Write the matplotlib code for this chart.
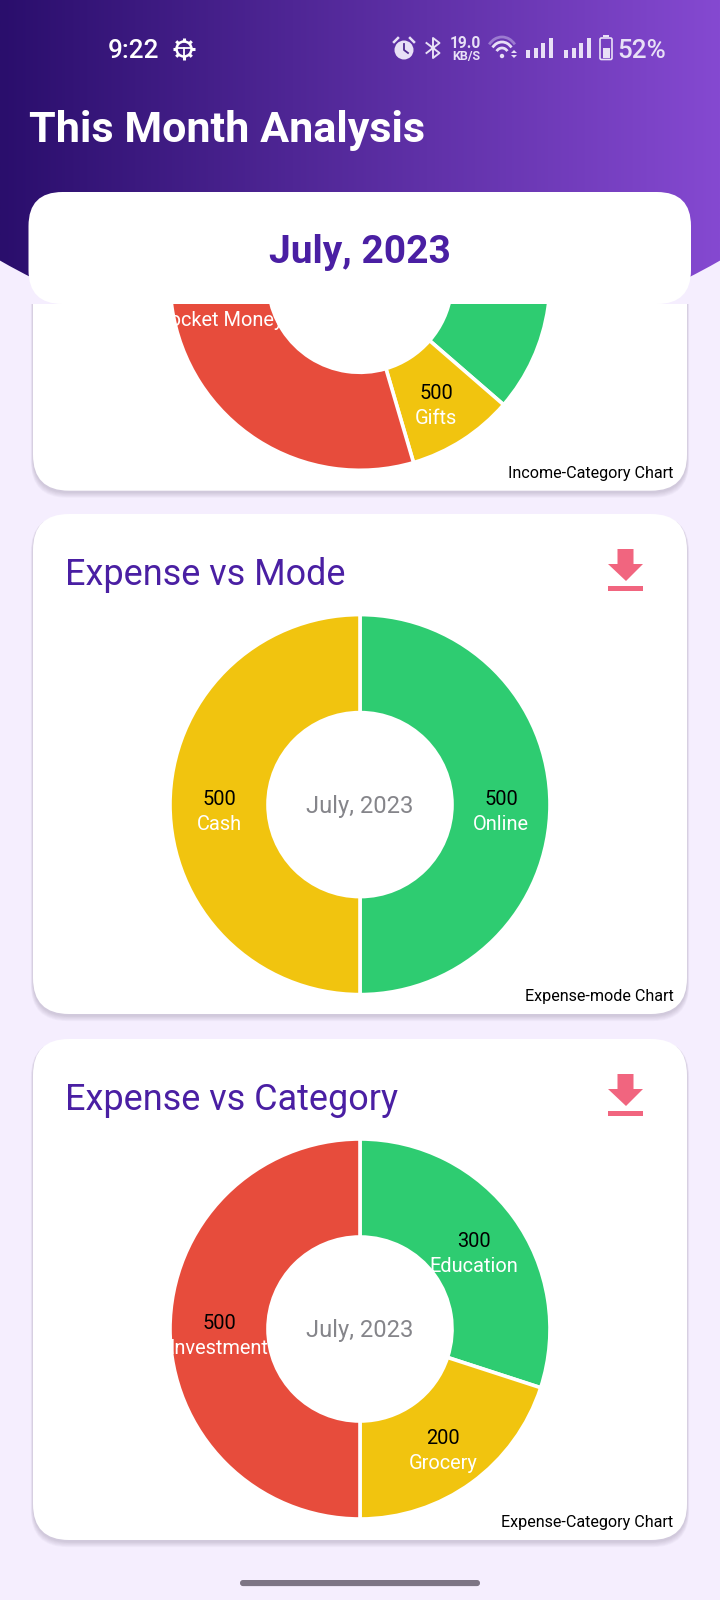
import numpy as np
import matplotlib
matplotlib.use('Agg')
import matplotlib.pyplot as plt
from matplotlib.patches import FancyBboxPatch, Rectangle, Circle, Polygon, Arc

W, H = 720, 1600

GREEN = '#2ECC71'
YELLOW = '#F1C40F'
RED = '#E74C3C'
PURPLE = '#4A1FA3'
PINK = '#F1657F'
BG = '#F5EEFE'
STATUS = '#E8E0F6'

# hidden label of the green income slice cannot be read, so it stays empty
income_values = [2000, 500, 3000]
income_labels = ['', 'Gifts', 'Pocket Money']
income_colors = [GREEN, YELLOW, RED]

mode_values = [500, 500]
mode_labels = ['Online', 'Cash']
mode_colors = [GREEN, YELLOW]

category_values = [300, 200, 500]
category_labels = ['Education', 'Grocery', 'Investment']
category_colors = [GREEN, YELLOW, RED]

plt.rcParams['font.family'] = ['Roboto', 'DejaVu Sans']

fig = plt.figure(figsize=(W / 100, H / 100), dpi=100, facecolor=BG)
# everything except the donuts is drawn in screen pixels
ax = fig.add_axes([0, 0, 1, 1], zorder=0)
ax.set_xlim(0, W)
ax.set_ylim(H, 0)
ax.axis('off')


def px(size):
    # font size from a height in pixels
    return size * 0.72


# header gradient with the round lower edge
grad = np.linspace(0, 1, 256).reshape(1, -1, 1)
left = np.array([0x2A, 0x0E, 0x6C]).reshape(1, 1, 3) / 255
right = np.array([0x85, 0x49, 0xD1]).reshape(1, 1, 3) / 255
img = ax.imshow(left + (right - left) * grad, extent=(0, W, 400, 0), aspect='auto', zorder=1)
img.set_clip_path(Circle((360, -371), 727, transform=ax.transData))
ax.set_xlim(0, W)
ax.set_ylim(H, 0)


def card(x0, y0, x1, y1, r, clip=None, z=2, shade=0.028):
    # soft shadow first, white box on top
    for i in range(7, 0, -1):
        if shade == 0:
            break
        s = FancyBboxPatch((x0 - i * 0.3 + r, y0 + 1.5 + r), x1 - x0 + i * 0.6 - 2 * r, y1 - y0 + i * 0.8 - 2 * r,
                           boxstyle='round,pad=%g' % r, fc='#3C3050', ec='none', alpha=shade, zorder=z)
        ax.add_patch(s)
        if clip:
            s.set_clip_path(clip)
    b = FancyBboxPatch((x0 + r, y0 + r), x1 - x0 - 2 * r, y1 - y0 - 2 * r,
                       boxstyle='round,pad=%g' % r, fc='white', ec='none', zorder=z)
    ax.add_patch(b)
    if clip:
        b.set_clip_path(clip)


def download_icon(dy):
    ax.add_patch(Polygon([(617.5, 549 + dy), (633.5, 549 + dy), (633.5, 564 + dy), (643, 564 + dy),
                          (626, 581 + dy), (608, 564 + dy), (617.5, 564 + dy)],
                         closed=True, fc=PINK, ec='none', zorder=4))
    ax.add_patch(Rectangle((608, 586 + dy), 35, 5, fc=PINK, ec='none', zorder=4))


def donut(values, labels, colors, cy, clip=None):
    # radius includes the white edge stroke, so the visible ring is 188 px
    half = 190 * 1.25
    a = fig.add_axes([(360 - half) / W, 1 - (cy + half) / H, 2 * half / W, 2 * half / H], zorder=1)
    wedges, _ = a.pie(values, colors=colors, startangle=90, counterclock=False, radius=1,
                      wedgeprops=dict(width=98 / 190, edgecolor='white', linewidth=2.6))
    a.set_xlim(-1.25, 1.25)
    a.set_ylim(-1.25, 1.25)
    a.patch.set_alpha(0)
    items = list(wedges)
    for w, v, name in zip(wedges, values, labels):
        mid = np.radians((w.theta1 + w.theta2) / 2)
        x = 141 / 190 * np.cos(mid)
        y = 141 / 190 * np.sin(mid)
        t1 = a.text(x, y + 5 / 190, str(v), color='black', fontsize=px(20), ha='center', va='center')
        t2 = a.text(x, y - 20 / 190, name, color='white', fontsize=px(20), ha='center', va='center')
        items += [t1, t2]
    if clip:
        for it in items:
            it.set_clip_path(clip)
            it.set_clip_on(True)


view = Rectangle((0, 304), W, H - 304, transform=ax.transData)

# three scroll cards, the first one runs under the month box
card(33, 200, 687, 490.7, 36, clip=view)
card(33, 514, 687, 1014, 36)
card(33, 1039, 687, 1540, 36)
# month box
card(28.5, 192, 691, 304, 34, z=3, shade=0)

ax.text(29, 142, 'This Month Analysis', color='white', fontsize=px(43.2), fontweight='bold', va='baseline', zorder=5)
ax.text(360, 263, 'July, 2023', color=PURPLE, fontsize=px(38.9), fontweight='bold', ha='center', va='baseline', zorder=5)

# card titles and captions
ax.text(65, 585, 'Expense vs Mode', color=PURPLE, fontsize=px(36), va='baseline', zorder=4)
ax.text(65, 1110, 'Expense vs Category', color=PURPLE, fontsize=px(36), va='baseline', zorder=4)
download_icon(0)
download_icon(525)
ax.text(673.5, 478, 'Income-Category Chart', color='black', fontsize=px(16.1), ha='right', va='baseline', zorder=4)
ax.text(673.5, 1001, 'Expense-mode Chart', color='black', fontsize=px(16.1), ha='right', va='baseline', zorder=4)
ax.text(673.5, 1527, 'Expense-Category Chart', color='black', fontsize=px(16.1), ha='right', va='baseline', zorder=4)

for cy in (806.6, 1331):
    ax.text(360, cy, 'July, 2023', color='#85858A', fontsize=px(23.7), ha='center', va='center', zorder=4)

donut(income_values, income_labels, income_colors, 280.3, clip=view)
donut(mode_values, mode_labels, mode_colors, 804.6)
donut(category_values, category_labels, category_colors, 1329)

# status bar
ax.text(107.5, 58, '9:22', color='white', fontsize=px(26), fontweight='medium', va='baseline', zorder=5)
for ang in np.arange(0, 360, 45):
    ax.plot([184 + 7 * np.cos(np.radians(ang)), 184 + 11 * np.cos(np.radians(ang))],
            [49 + 7 * np.sin(np.radians(ang)), 49 + 11 * np.sin(np.radians(ang))],
            color='white', lw=2.2, solid_capstyle='butt', zorder=5)
ax.add_patch(Circle((184, 49), 7.5, fc='none', ec='white', lw=1.8, zorder=5))
ax.plot([177, 191], [48, 48], color='white', lw=1.3, zorder=5)
ax.plot([184, 184], [48, 56], color='white', lw=1.3, zorder=5)

# alarm
ax.add_patch(Circle((404, 50), 9.5, fc=STATUS, ec='none', zorder=5))
ax.plot([404, 404, 408], [44, 50, 53], color='#4F2A8F', lw=1.3, zorder=6)
ax.plot([394, 398], [42, 38], color=STATUS, lw=1.8, zorder=5)
ax.plot([414, 410], [42, 38], color=STATUS, lw=1.8, zorder=5)
# bluetooth
ax.plot([426.5, 439.5, 433, 433, 439.5, 426.5], [43, 53, 58, 38, 43, 53], color=STATUS, lw=1.4, zorder=5)
ax.text(465, 48.5, '19.0', color=STATUS, fontsize=px(15.5), fontweight='bold', ha='center', va='baseline', zorder=5)
ax.text(466, 60, 'KB/S', color=STATUS, fontsize=px(12.5), fontweight='bold', ha='center', va='baseline', zorder=5)
# wifi
for r, c in ((19, '#9C7BD0'), (14, STATUS), (8, STATUS)):
    ax.add_patch(Arc((502, 56), 2 * r * 0.85, 2 * r, theta1=222, theta2=318, color=c, lw=2.0, zorder=5))
ax.add_patch(Circle((502, 56), 2.2, fc=STATUS, ec='none', zorder=5))
ax.add_patch(Polygon([(511, 53), (517, 53), (514, 50)], fc=STATUS, ec='none', zorder=5))
ax.add_patch(Polygon([(511, 55), (517, 55), (514, 58)], fc=STATUS, ec='none', zorder=5))
# signal bars
for x0 in (526, 564):
    for i, h in enumerate((8, 10, 15, 20)):
        ax.add_patch(Rectangle((x0 + i * 7.7, 58 - h), 3.8, h, fc=STATUS, ec='none', zorder=5))
# battery
ax.add_patch(FancyBboxPatch((601.5, 39.5), 9, 18.5, boxstyle='round,pad=1.5', fc='none', ec=STATUS, lw=1.2, zorder=5))
ax.add_patch(Rectangle((603, 35), 6, 1.8, fc=STATUS, ec='none', zorder=5))
ax.add_patch(Rectangle((602.5, 48), 7, 10, fc=STATUS, ec='none', zorder=5))
ax.text(617.5, 57.5, '52%', color=STATUS, fontsize=px(26), fontweight='medium', va='baseline', zorder=5)

# gesture bar
ax.add_patch(FancyBboxPatch((243, 1583), 234, 0.1, boxstyle='round,pad=3', fc='#7D7585', ec='none', zorder=5))

fig.savefig('out.png', dpi=100, facecolor=BG)
